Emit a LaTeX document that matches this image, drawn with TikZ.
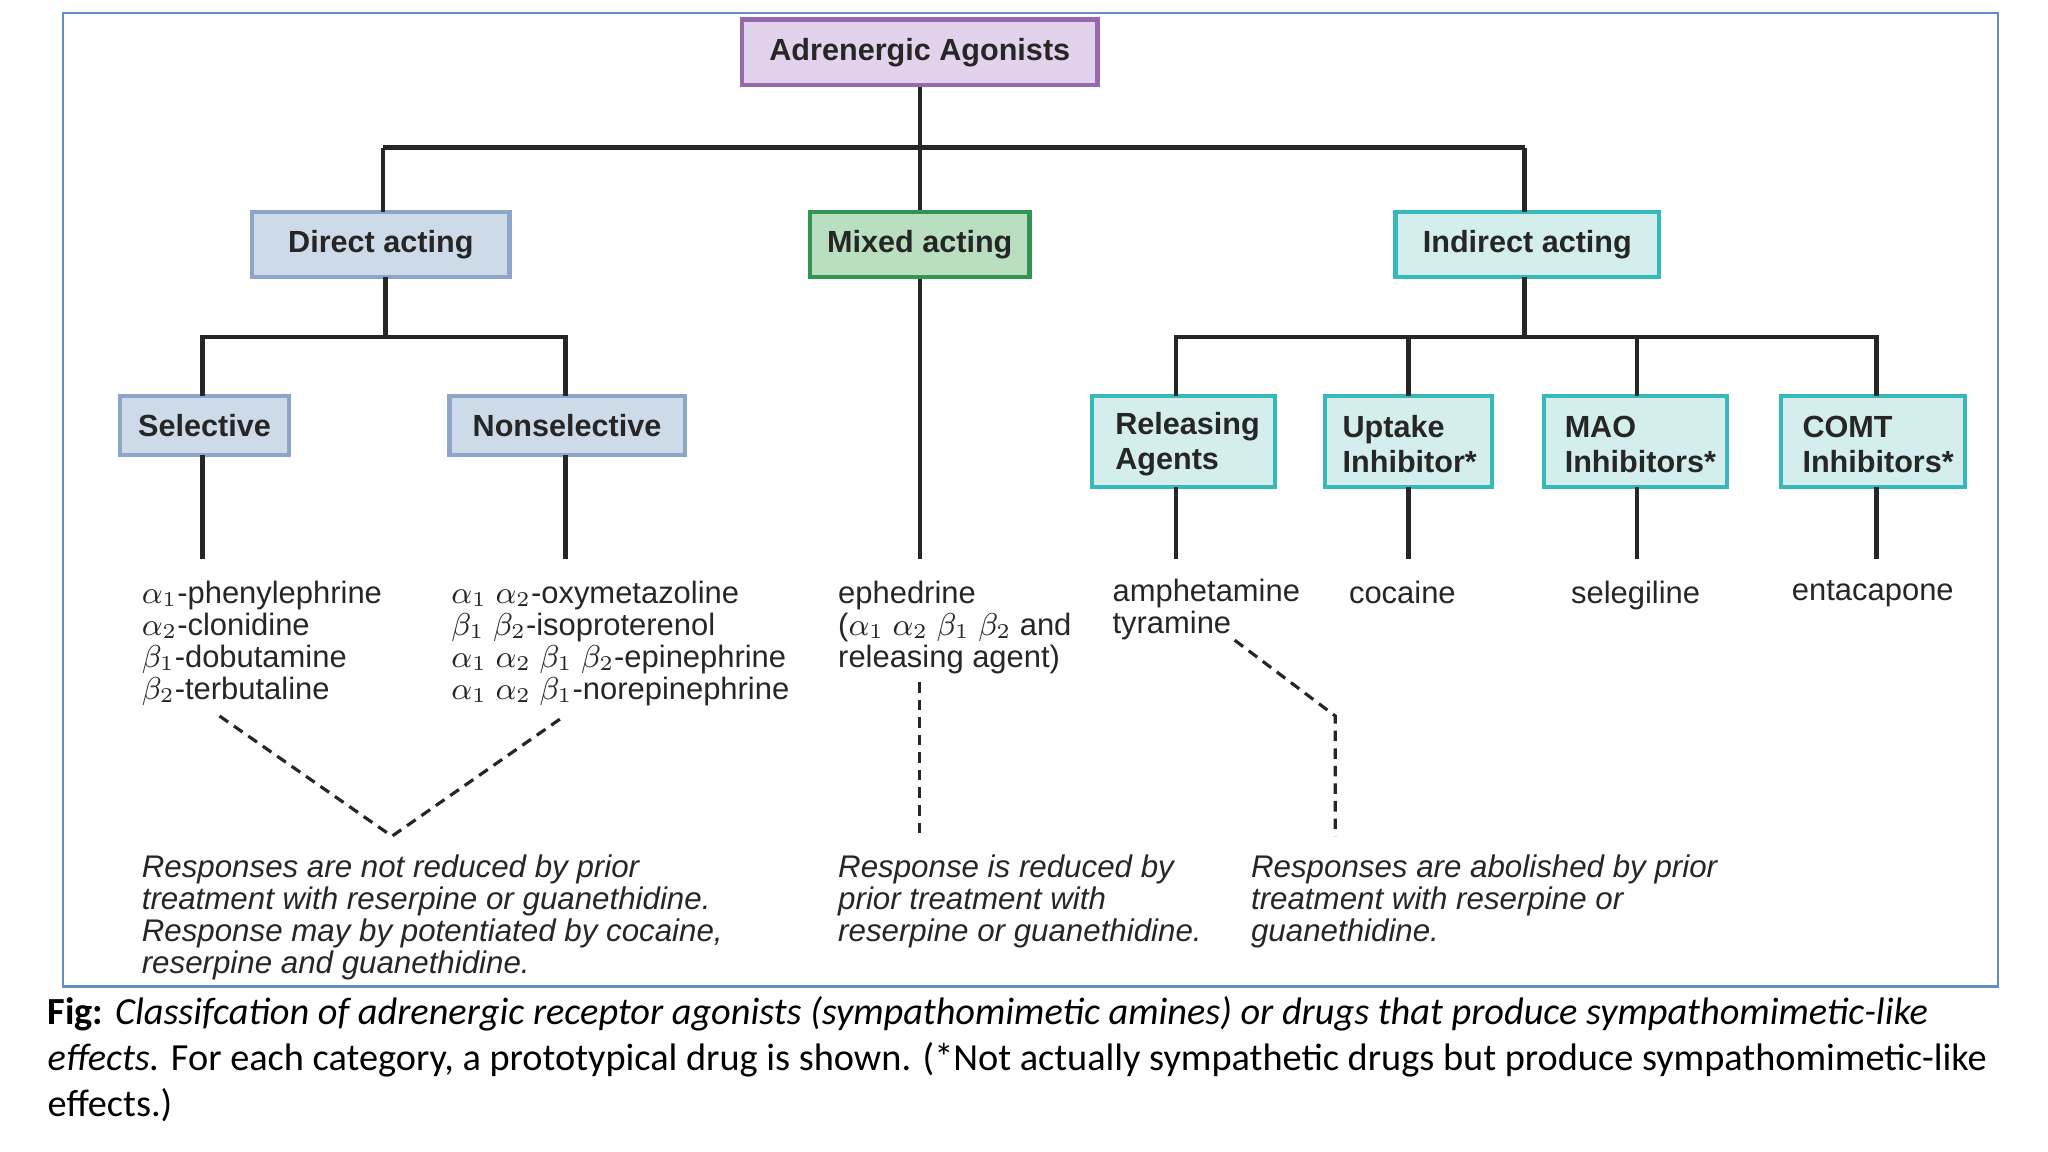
\documentclass[tikz,border=0pt]{standalone}
\usepackage{fontspec}
\setmainfont{Liberation Sans}
\newfontfamily\capfont{Carlito}
\def\pxu{0.013065cm}
\begin{document}
\begin{tikzpicture}[x=\pxu,y=-\pxu,
 bx/.style={draw, line width=1.2pt, font=\bfseries\fontsize{8.7}{10}\selectfont, text=black!85, inner sep=0pt},
 ln/.style={line width=1.3pt, black!85},
 ds/.style={line width=0.9pt, dashed, dash pattern=on 3pt off 2pt, black!85},
 lt/.style={anchor=north west, align=left, font=\fontsize{8.8}{9.1}\selectfont, text=black!85, inner sep=0pt},
 it/.style={anchor=north west, align=left, font=\itshape\fontsize{8.9}{9.1}\selectfont, text=black!85, inner sep=0pt}]
\useasboundingbox (0,0) rectangle (1567.5,881.7);
\fill[white] (0,0) rectangle (1567.5,881.7);
\draw[line width=0.6pt, color={rgb,255:red,100;green,140;blue,200}] (48,10) rectangle (1529,755);
\definecolor{pf}{RGB}{226,210,236}\definecolor{pd}{RGB}{150,105,175}
\definecolor{bf}{RGB}{205,218,232}\definecolor{bd}{RGB}{140,165,200}
\definecolor{gf}{RGB}{185,222,192}\definecolor{gd}{RGB}{50,150,80}
\definecolor{cf}{RGB}{212,238,238}\definecolor{cd}{RGB}{55,185,185}
% boxes
\node[bx, fill=pf, draw=pd, minimum width=272*\pxu, minimum height=50*\pxu] (top) at (704,40) {Adrenergic Agonists};
\node[bx, fill=bf, draw=bd, minimum width=197*\pxu, minimum height=50*\pxu] (dir) at (291.5,187) {Direct acting};
\node[bx, fill=gf, draw=gd, minimum width=168*\pxu, minimum height=50*\pxu] (mix) at (704,187) {Mixed acting};
\node[bx, fill=cf, draw=cd, minimum width=202*\pxu, minimum height=50*\pxu] (ind) at (1169,187) {Indirect acting};
\node[bx, fill=bf, draw=bd, minimum width=129*\pxu, minimum height=45*\pxu] (sel) at (156.5,325.5) {Selective};
\node[bx, fill=bf, draw=bd, minimum width=180*\pxu, minimum height=45*\pxu] (non) at (434,325.5) {Nonselective};
\node[bx, fill=cf, draw=cd, minimum width=140*\pxu, minimum height=70*\pxu] (rel) at (906,338) {};
\node[bx, fill=cf, draw=cd, minimum width=128*\pxu, minimum height=70*\pxu] (upt) at (1078,338) {};
\node[bx, fill=cf, draw=cd, minimum width=140*\pxu, minimum height=70*\pxu] (mao) at (1252,338) {};
\node[bx, fill=cf, draw=cd, minimum width=141*\pxu, minimum height=70*\pxu] (comt) at (1433.5,338) {};
\node[bx, anchor=west, align=left, draw=none] at (852,340) {Releasing\\Agents};
\node[bx, anchor=west, align=left, draw=none] at (1026,340) {Uptake\\Inhibitor*};
\node[bx, anchor=west, align=left, draw=none] at (1196,340) {MAO\\Inhibitors*};
\node[bx, anchor=west, align=left, draw=none] at (1378,340) {COMT\\Inhibitors*};
% tree lines
\draw[ln] (top.south) -- (mix.north);
\draw[ln] (293,113) -- (1167,113);
\draw[ln] (293,113) -- (293,162);
\draw[ln] (1167,113) -- (1167,162);
\draw[ln] (295,212) -- (295,258);
\draw[ln] (155,303) -- (155,258) -- (433,258) -- (433,303);
\draw[ln] (1167,212) -- (1167,258);
\draw[ln] (900,303) -- (900,258) -- (1436,258) -- (1436,303);
\draw[ln] (1078,258) -- (1078,303);
\draw[ln] (1253,258) -- (1253,303);
\draw[ln] (155,348) -- (155,428);
\draw[ln] (433,348) -- (433,428);
\draw[ln] (mix.south) -- (704,428);
\draw[ln] (900,373) -- (900,428);
\draw[ln] (1078,373) -- (1078,428);
\draw[ln] (1253,373) -- (1253,428);
\draw[ln] (1436,373) -- (1436,428);
% lists
\node[lt] (l1) at (108,444) {$\alpha_1$-phenylephrine\\$\alpha_2$-clonidine\\$\beta_1$-dobutamine\\$\beta_2$-terbutaline};
\node[lt] (l2) at (345,444) {$\alpha_1$ $\alpha_2$-oxymetazoline\\$\beta_1$ $\beta_2$-isoproterenol\\$\alpha_1$ $\alpha_2$ $\beta_1$ $\beta_2$-epinephrine\\$\alpha_1$ $\alpha_2$ $\beta_1$-norepinephrine};
\node[lt] (l3) at (641,444) {ephedrine\\($\alpha_1$ $\alpha_2$ $\beta_1$ $\beta_2$ and\\releasing agent)};
\node[lt] (l4) at (851,443) {amphetamine\\tyramine};
\node[lt] (l5) at (1032,444) {cocaine};
\node[lt] (l6) at (1202,444) {selegiline};
\node[lt] (l7) at (1371,444) {entacapone};
% dashed
\coordinate (v1) at (300,640);
\draw[ds] (168,548) -- (v1) -- (432,548);
\draw[ds] (704,522) -- (704,640);
\draw[ds] (945,490) -- (1022,548) -- (1022,640);
% italic notes
\node[it] at (108,654) {Responses are not reduced by prior\\treatment with reserpine or guanethidine.\\Response may by potentiated by cocaine,\\reserpine and guanethidine.};
\node[it] at (641,654) {Response is reduced by\\prior treatment with\\reserpine or guanethidine.};
\node[it] at (957,654) {Responses are abolished by prior\\treatment with reserpine or\\guanethidine.};
% caption
\node[anchor=north west, align=left, inner sep=0pt, font=\capfont\fontsize{10.9}{13.1}\selectfont] at (36,762)
 {\textbf{Fig:} \textit{Classifcation of adrenergic receptor agonists (sympathomimetic amines) or drugs that produce sympathomimetic-like}\\
 \textit{effects.} For each category, a prototypical drug is shown. (*Not actually sympathetic drugs but produce sympathomimetic-like\\effects.)};
\end{tikzpicture}
\end{document}
